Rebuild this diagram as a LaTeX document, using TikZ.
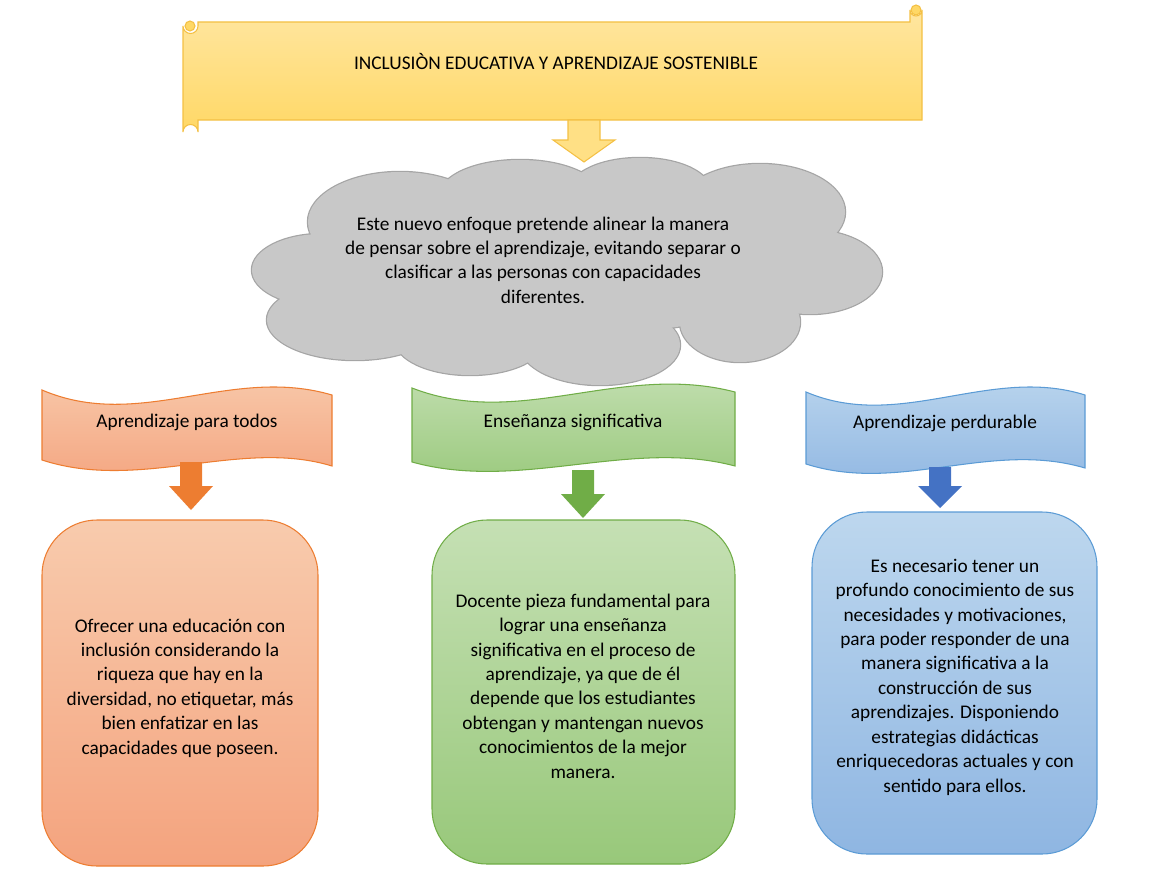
\documentclass[tikz,border=0pt]{standalone}
\usepackage{fontspec}
\setmainfont{Carlito}
\definecolor{oT}{HTML}{F8CBAD}\definecolor{oB}{HTML}{F4A37E}\definecolor{oD}{HTML}{ED7D31}
\definecolor{gT}{HTML}{C5E0B4}\definecolor{gB}{HTML}{98C87A}\definecolor{gD}{HTML}{70AD47}
\definecolor{bT}{HTML}{BDD7EE}\definecolor{bB}{HTML}{8FB6E2}\definecolor{bD}{HTML}{5B9BD5}\definecolor{bA}{HTML}{4472C4}
\definecolor{yT}{HTML}{FFE6A0}\definecolor{yB}{HTML}{FFD866}\definecolor{yD}{HTML}{F4C044}
\definecolor{cF}{HTML}{C8C8C8}\definecolor{cD}{HTML}{A5A5A5}
\begin{document}
\begin{tikzpicture}[x=0.02cm,y=-0.02cm,
 txt/.style={align=center,font=\fontsize{11}{13.9}\selectfont,text=black},
 dnarrow/.style={line width=0.6pt},
 box/.style={rounded corners=1.1cm,line width=0.6pt},
 cl/.style={draw=cD,line width=1.4pt},
 clf/.style={fill=cF}]
\useasboundingbox (0,0) rectangle (1158,875);
% title scroll
\path[draw=yD,top color=yT,bottom color=yB,line width=0.6pt]
 (198,22) -- (910,22) -- (910,10) arc (180:0:6) -- (922,120) -- (198,120) -- (198,132) arc(0:-180:7.5) -- (183,26) arc(180:0:7.5) -- cycle;
\draw[draw=yD,fill=yB,line width=0.6pt] (190,26) circle (5);
\draw[draw=yD,fill=yB,line width=0.6pt] (916,10) circle (5);
\node[txt] (title) at (556,62) {INCLUSIÒN EDUCATIVA Y APRENDIZAJE SOSTENIBLE};
\draw[draw=yD,fill=yB!80!white,dnarrow] (568,120) -- (600,120) -- (600,140) -- (615,140) -- (584,162) -- (553,140) -- (568,140) -- cycle;
% cloud
\foreach \cx/\cy/\rx/\ry in {400/222/92/50, 520/195/80/35, 640/190/70/32, 760/212/85/48, 810/272/72/42, 740/322/60/40, 600/345/80/40, 470/340/75/35, 355/320/88/40, 322/270/70/36, 560/265/250/70}
 \draw[cl] (\cx,\cy) ellipse ({\rx} and {\ry});
\foreach \cx/\cy/\rx/\ry in {400/222/92/50, 520/195/80/35, 640/190/70/32, 760/212/85/48, 810/272/72/42, 740/322/60/40, 600/345/80/40, 470/340/75/35, 355/320/88/40, 322/270/70/36, 560/265/250/70}
 \fill[clf] (\cx,\cy) ellipse ({\rx} and {\ry});
\node[txt] (cloud) at (543,260) {Este nuevo enfoque pretende alinear la manera\\de pensar sobre el aprendizaje, evitando separar o\\clasificar a las personas con capacidades\\diferentes.};
% banners
\path[draw=oD,top color=oT,bottom color=oB,line width=0.6pt]
 (42,390) .. controls (140,432) and (230,365) .. (332,395) -- (332,466) .. controls (240,438) and (140,492) .. (42,460) -- cycle;
\node[txt] (b1) at (187,422) {Aprendizaje para todos};
\path[draw=gD,top color=gT,bottom color=gB,line width=0.6pt]
 (412,388) .. controls (520,430) and (620,362) .. (735,392) -- (735,466) .. controls (630,438) and (520,492) .. (412,462) -- cycle;
\node[txt] (b2) at (573,422) {Enseñanza significativa};
\path[draw=bD,top color=bT,bottom color=bB,line width=0.6pt]
 (806,392) .. controls (900,432) and (990,365) .. (1085,395) -- (1085,468) .. controls (990,440) and (900,494) .. (806,464) -- cycle;
\node[txt] (b3) at (945,423) {Aprendizaje perdurable};
% arrows
\fill[oD] (180,462) -- (202,462) -- (202,486) -- (213,486) -- (191,510) -- (169,486) -- (180,486) -- cycle;
\fill[gD] (572,470) -- (594,470) -- (594,494) -- (605,494) -- (583,518) -- (561,494) -- (572,494) -- cycle;
\fill[bA] (929,467) -- (951,467) -- (951,486) -- (962,486) -- (940,508) -- (918,486) -- (929,486) -- cycle;
% boxes
\draw[box,draw=oD,top color=oT,bottom color=oB] (42,520) rectangle (318,866);
\node[txt] (t1) at (180,688) {Ofrecer una educación con\\inclusión considerando la\\riqueza que hay en la\\diversidad, no etiquetar, más\\bien enfatizar en las\\capacidades que poseen.};
\draw[box,draw=gD,top color=gT,bottom color=gB] (432,520) rectangle (735,864);
\node[txt] (t2) at (583,686) {Docente pieza fundamental para\\lograr una enseñanza\\significativa en el proceso de\\aprendizaje, ya que de él\\depende que los estudiantes\\obtengan y mantengan nuevos\\conocimientos de la mejor\\manera.};
\draw[box,draw=bD,top color=bT,bottom color=bB] (812,512) rectangle (1097,854);
\node[txt] (t3) at (955,677) {Es necesario tener un\\profundo conocimiento de sus\\necesidades y motivaciones,\\para poder responder de una\\manera significativa a la\\construcción de sus\\aprendizajes. Disponiendo\\estrategias didácticas\\enriquecedoras actuales y con\\sentido para ellos.};
\end{tikzpicture}
\end{document}
